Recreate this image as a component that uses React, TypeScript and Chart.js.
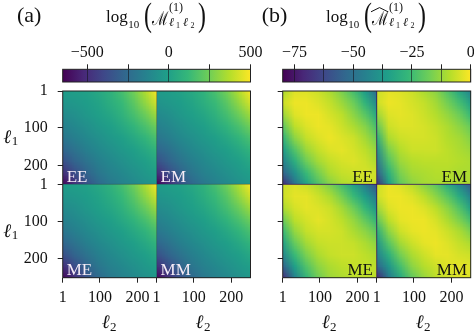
import React, { useEffect, useRef } from "react";
import { Chart, registerables } from "chart.js";
Chart.register(...registerables);

const SERIF = "'Liberation Serif', 'DejaVu Serif', serif";

// multipole nodes (row = l1 index, column = l2 index) at which values were read
const ELL_NODES = [1, 32.25, 63.5, 94.75, 126, 157.25, 188.5, 219.75, 251];
const BLOCK_SHIFT = 250;
const ELL_TICKS = [1, 100, 200];
const BLOCK_NAMES = ["EE", "EM", "ME", "MM"];
const BLOCK_COL = [0, 1, 0, 1];
const BLOCK_ROW = [0, 0, 1, 1];

const RANGE_A = [-650, 500];
const RANGE_B = [-80, 0];
const CB_A_TICKS = [-500, -250, 0, 250, 500];
const CB_A_LABELLED = [-500, 0, 500];
const CB_B_TICKS = [-75, -62.5, -50, -37.5, -25, -12.5, 0];
const CB_B_LABELLED = [-75, -50, -25, 0];

// panel (a): log10 M
const A_EE = [
  [-15, -5, 5, 40, 85, 155, 245, 360, 490],
  [-50, -40, -15, 15, 65, 120, 200, 305, 420],
  [-100, -75, -40, -5, 30, 85, 155, 235, 330],
  [-145, -110, -75, -40, -5, 40, 100, 165, 245],
  [-200, -155, -110, -75, -40, -5, 40, 100, 165],
  [-270, -215, -155, -110, -75, -40, -5, 40, 100],
  [-360, -280, -215, -155, -110, -75, -40, -5, 40],
  [-490, -375, -280, -200, -145, -110, -75, -40, -5],
  [-640, -500, -360, -260, -190, -145, -110, -75, -40],
];
const A_EM = [
  [-25, -10, 10, 45, 95, 165, 255, 370, 495],
  [-60, -40, -15, 20, 70, 125, 205, 310, 425],
  [-105, -80, -40, -5, 30, 85, 155, 240, 335],
  [-150, -115, -75, -40, -5, 40, 100, 165, 250],
  [-205, -160, -110, -75, -40, -5, 40, 100, 165],
  [-275, -220, -160, -110, -75, -40, -5, 40, 100],
  [-365, -285, -215, -155, -110, -75, -40, -5, 40],
  [-495, -380, -285, -205, -145, -110, -75, -40, -5],
  [-645, -505, -365, -265, -195, -145, -110, -75, -40],
];
const A_ME = [
  [-15, -5, 5, 40, 85, 150, 240, 355, 485],
  [-50, -40, -15, 15, 60, 120, 195, 300, 415],
  [-100, -75, -40, -5, 30, 80, 150, 230, 325],
  [-145, -110, -75, -40, -5, 40, 95, 160, 240],
  [-200, -155, -110, -75, -40, -5, 40, 95, 160],
  [-270, -215, -155, -110, -75, -40, -5, 40, 100],
  [-360, -280, -215, -155, -110, -75, -40, -5, 40],
  [-490, -375, -280, -200, -145, -110, -75, -40, -5],
  [-640, -500, -360, -260, -190, -145, -110, -75, -40],
];
const A_MM = [
  [-20, -5, 5, 40, 90, 160, 250, 365, 490],
  [-55, -40, -15, 15, 65, 125, 200, 305, 420],
  [-100, -75, -40, -5, 30, 85, 155, 235, 330],
  [-145, -110, -75, -40, -5, 40, 100, 165, 245],
  [-200, -155, -110, -75, -40, -5, 40, 100, 165],
  [-270, -215, -155, -110, -75, -40, -5, 40, 100],
  [-360, -280, -215, -155, -110, -75, -40, -5, 40],
  [-490, -375, -280, -200, -145, -110, -75, -40, -5],
  [-640, -500, -360, -260, -190, -145, -110, -75, -40],
];

// panel (b): log10 M-hat
const B_EE = [
  [-10, -4, -4, -6, -10, -16, -24, -36, -52],
  [-6, -2, -2, -4, -7, -12, -18, -28, -42],
  [-12, -4, -2, -2, -5, -8, -14, -21, -32],
  [-20, -8, -4, -2, -3, -6, -10, -15, -24],
  [-28, -14, -7, -4, -2, -4, -6, -11, -18],
  [-36, -22, -12, -7, -4, -3, -5, -8, -13],
  [-44, -30, -18, -11, -7, -5, -4, -6, -10],
  [-54, -40, -26, -17, -10, -7, -6, -5, -6],
  [-70, -50, -34, -23, -15, -10, -8, -6, -6],
];
const B_EM = [
  [-6, -3, -4, -6, -10, -14, -22, -32, -44],
  [-6, -2, -3, -5, -7, -11, -17, -24, -34],
  [-12, -4, -3, -4, -6, -9, -13, -18, -26],
  [-20, -6, -4, -4, -5, -7, -10, -14, -19],
  [-30, -10, -6, -5, -5, -6, -9, -11, -15],
  [-40, -16, -9, -6, -6, -6, -8, -10, -12],
  [-48, -22, -12, -9, -8, -8, -8, -9, -10],
  [-56, -29, -16, -11, -10, -9, -9, -10, -10],
  [-70, -36, -20, -14, -11, -10, -10, -10, -10],
];
const B_ME = [
  [-6, -4, -6, -10, -16, -24, -34, -46, -60],
  [-6, -3, -3, -6, -10, -17, -26, -36, -48],
  [-10, -5, -3, -4, -6, -11, -18, -27, -38],
  [-18, -8, -5, -3, -5, -8, -13, -20, -28],
  [-26, -13, -7, -5, -5, -6, -10, -14, -20],
  [-34, -19, -11, -7, -6, -6, -7, -10, -14],
  [-42, -26, -16, -10, -7, -6, -6, -8, -10],
  [-54, -35, -22, -14, -10, -8, -7, -7, -8],
  [-70, -45, -28, -18, -12, -10, -8, -8, -8],
];
const B_MM = [
  [-6, -2, -4, -8, -14, -20, -30, -42, -56],
  [-6, -2, -2, -4, -8, -14, -21, -31, -44],
  [-12, -4, -2, -2, -4, -8, -14, -22, -34],
  [-20, -8, -3, -2, -2, -5, -10, -16, -24],
  [-30, -14, -6, -3, -2, -3, -6, -10, -16],
  [-38, -21, -11, -6, -3, -2, -4, -7, -10],
  [-44, -29, -17, -10, -6, -3, -3, -5, -6],
  [-54, -38, -24, -14, -9, -6, -4, -3, -4],
  [-72, -48, -32, -20, -13, -8, -6, -4, -4],
];

const VIRIDIS = [
  [68, 1, 84], [72, 40, 120], [62, 73, 137], [49, 104, 142], [38, 130, 142],
  [31, 158, 137], [53, 183, 121], [110, 206, 88], [181, 222, 43], [253, 231, 37],
];

function viridis(t: number) {
  const tt = Math.max(0, Math.min(1, t));
  const s = tt * (VIRIDIS.length - 1);
  const i = Math.min(Math.floor(s), VIRIDIS.length - 2);
  const f = s - i;
  return VIRIDIS[i].map((c, k) => Math.round(c + (VIRIDIS[i + 1][k] - c) * f));
}

function toPoints(m: number[][], k: number) {
  const ox = BLOCK_COL[k] * BLOCK_SHIFT;
  const oy = BLOCK_ROW[k] * BLOCK_SHIFT;
  const pts: any[] = [];
  m.forEach((row, i) =>
    row.forEach((v, j) => pts.push({ x: ELL_NODES[j] + ox, y: ELL_NODES[i] + oy, v }))
  );
  return pts;
}

const heatmapPlugin = {
  id: "heat",
  beforeDatasetsDraw(chart: any, _args: any, opts: any) {
    const { ctx, scales } = chart;
    const xs = scales.x, ys = scales.y;
    const [vmin, vmax] = opts.range;
    chart.data.datasets.forEach((ds: any) => {
      const pts = ds.data;
      const xv = Array.from(new Set(pts.map((p: any) => p.x))).sort((a: any, b: any) => a - b) as number[];
      const yv = Array.from(new Set(pts.map((p: any) => p.y))).sort((a: any, b: any) => a - b) as number[];
      const off = document.createElement("canvas");
      off.width = xv.length;
      off.height = yv.length;
      const octx = off.getContext("2d")!;
      const img = octx.createImageData(xv.length, yv.length);
      pts.forEach((p: any) => {
        const i = yv.indexOf(p.y), j = xv.indexOf(p.x);
        const c = viridis((p.v - vmin) / (vmax - vmin));
        const k = (i * xv.length + j) * 4;
        img.data[k] = c[0]; img.data[k + 1] = c[1]; img.data[k + 2] = c[2]; img.data[k + 3] = 255;
      });
      octx.putImageData(img, 0, 0);
      const x0 = xs.getPixelForValue(xv[0]), x1 = xs.getPixelForValue(xv[xv.length - 1]);
      const y0 = ys.getPixelForValue(yv[0]), y1 = ys.getPixelForValue(yv[yv.length - 1]);
      ctx.save();
      ctx.imageSmoothingEnabled = true;
      ctx.drawImage(off, 0.5, 0.5, xv.length - 1, yv.length - 1,
        Math.min(x0, x1), Math.min(y0, y1), Math.abs(x1 - x0), Math.abs(y1 - y0));
      ctx.restore();
    });
  },
};

function drawEll(ctx: any, x: number, base: number, sub: string, size: number, subSize: number, drop: number) {
  ctx.font = `italic ${size}px ${SERIF}`;
  ctx.textAlign = "left";
  ctx.textBaseline = "alphabetic";
  ctx.fillText("\u2113", x, base);
  const w = ctx.measureText("\u2113").width;
  ctx.font = `${subSize}px ${SERIF}`;
  ctx.fillText(sub, x + w + 0.5, base + drop);
}

function panelDecor(kind: string) {
  return {
    id: "decor" + kind,
    afterDatasetsDraw(chart: any) {
      const { ctx, chartArea: ca, scales } = chart;
      const x = scales.x, y = scales.y;
      ctx.save();
      const xd = x.getPixelForValue(1 + BLOCK_SHIFT), yd = y.getPixelForValue(1 + BLOCK_SHIFT);
      ctx.strokeStyle = kind === "a" ? "rgba(45,40,75,0.4)" : "rgba(55,25,95,0.85)";
      ctx.lineWidth = 1;
      ctx.beginPath();
      ctx.moveTo(xd, ca.top); ctx.lineTo(xd, ca.bottom);
      ctx.moveTo(ca.left, yd); ctx.lineTo(ca.right, yd);
      ctx.stroke();
      ctx.strokeStyle = "#222";
      ctx.strokeRect(ca.left, ca.top, ca.right - ca.left, ca.bottom - ca.top);
      ctx.font = `17px ${SERIF}`;
      ctx.textBaseline = "alphabetic";
      BLOCK_NAMES.forEach((name, k) => {
        const ox = BLOCK_COL[k] * BLOCK_SHIFT, oy = BLOCK_ROW[k] * BLOCK_SHIFT;
        const left = x.getPixelForValue(1 + ox), right = x.getPixelForValue(251 + ox);
        const bottom = y.getPixelForValue(251 + oy);
        if (kind === "a") {
          ctx.fillStyle = "#f6ecf6"; ctx.textAlign = "left";
          ctx.fillText(name, left + 4, bottom - 2.5);
        } else {
          ctx.fillStyle = "#111"; ctx.textAlign = "right";
          ctx.fillText(name, right - 3.7, bottom - 2.5);
        }
      });
      ctx.restore();
    },
    afterDraw(chart: any) {
      const { ctx, scales } = chart;
      const x = scales.x, y = scales.y;
      ctx.save();
      ctx.fillStyle = "#111";
      [0, 1].forEach((b) => {
        const o = b * BLOCK_SHIFT;
        const cx = (x.getPixelForValue(1 + o) + x.getPixelForValue(251 + o)) / 2;
        drawEll(ctx, cx - 8, 244.3, "2", 19, 13, 2.4);
        if (kind === "a") {
          const cy = (y.getPixelForValue(1 + o) + y.getPixelForValue(251 + o)) / 2;
          drawEll(ctx, 3.3, cy + 5.8, "1", 19, 13, 1.8);
        }
      });
      ctx.restore();
    },
  };
}

function ellAxis(which: string, size: number, showLabels: boolean) {
  const tickVals = [...ELL_TICKS, ...ELL_TICKS.map((t) => t + BLOCK_SHIFT)];
  return {
    type: "linear",
    min: 1,
    max: 1 + 2 * BLOCK_SHIFT,
    reverse: which === "y",
    afterBuildTicks: (s: any) => { s.ticks = tickVals.map((v) => ({ value: v })); },
    afterFit: (s: any) => {
      if (which === "x") s.height = size; else s.width = size;
      s.paddingLeft = 0; s.paddingRight = 0; s.paddingTop = 0; s.paddingBottom = 0;
    },
    ticks: {
      autoSkip: false, maxRotation: 0, minRotation: 0,
      padding: which === "x" ? 5 : 10,
      color: "#111",
      font: { family: SERIF, size: 16 },
      callback: (v: number) => (showLabels ? String(v > BLOCK_SHIFT + 0.5 ? v - BLOCK_SHIFT : v) : ""),
    },
    grid: { drawOnChartArea: false, drawTicks: true, tickLength: 5, color: "#222", tickColor: "#222", lineWidth: 1 },
    border: { display: false },
  };
}

function panelConfig(blocks: number[][][], range: number[], kind: string, yWidth: number, rightPad: number) {
  return {
    type: "scatter",
    data: {
      datasets: blocks.map((m, k) => ({
        label: BLOCK_NAMES[k], data: toPoints(m, k), pointRadius: 0, pointHoverRadius: 0,
      })),
    },
    options: {
      responsive: false, animation: false, events: [],
      layout: { padding: { left: 0, right: rightPad, top: 7, bottom: 0 } },
      plugins: { legend: { display: false }, tooltip: { enabled: false }, heat: { range } },
      scales: { x: ellAxis("x", 54.3, true), y: ellAxis("y", yWidth, kind === "a") },
    },
    plugins: [heatmapPlugin, panelDecor(kind)],
  };
}

function drawParen(ctx: any, ch: string, x: number) {
  ctx.save();
  ctx.translate(x, 26.2);
  ctx.scale(0.72, 1);
  ctx.font = `33px ${SERIF}`;
  ctx.fillText(ch, 0, 0);
  ctx.restore();
}

function drawFitted(ctx: any, text: string, x: number, base: number, width: number) {
  const w = ctx.measureText(text).width;
  ctx.save();
  ctx.translate(x, base);
  ctx.scale(Math.min(1, width / w), 1);
  ctx.fillText(text, 0, 0);
  ctx.restore();
}

function drawTitle(ctx: any, x0: number, hat: boolean, tag: string, tagX: number) {
  ctx.save();
  ctx.fillStyle = "#111";
  ctx.strokeStyle = "#111";
  ctx.textAlign = "left";
  ctx.textBaseline = "alphabetic";
  ctx.font = `22px ${SERIF}`;
  ctx.fillText(tag, tagX, 22);
  ctx.font = `17px ${SERIF}`;
  ctx.fillText("log", x0, 21.7);
  ctx.font = `11px ${SERIF}`;
  ctx.fillText("10", x0 + 22.3, 27.5);
  drawParen(ctx, "(", x0 + 38);
  ctx.font = `19px ${SERIF}`;
  drawFitted(ctx, "\u2133", x0 + 45.5, 25, 16.5);
  if (hat) {
    ctx.lineWidth = 1;
    ctx.beginPath();
    ctx.moveTo(x0 + 45, 11.8); ctx.lineTo(x0 + 53.5, 7.6); ctx.lineTo(x0 + 62, 11.8);
    ctx.stroke();
  }
  ctx.font = `12px ${SERIF}`;
  ctx.fillText("(1)", x0 + 63, 10.8);
  ctx.font = `italic 12px ${SERIF}`;
  ctx.fillText("\u2113", x0 + 63, 26);
  ctx.fillText("\u2113", x0 + 77, 26);
  ctx.font = `8px ${SERIF}`;
  ctx.fillText("1", x0 + 70, 28.2);
  ctx.fillText("2", x0 + 84.5, 28.2);
  drawParen(ctx, ")", x0 + 92);
  ctx.restore();
}

function colorbarConfig(range: number[], ticks: number[], labelled: number[], padL: number, padR: number,
  titleX: number, hat: boolean, tag: string, tagX: number) {
  const fmt = (v: number) => (v < 0 ? "\u2212" + Math.abs(v) : String(v));
  return {
    type: "scatter",
    data: { datasets: [] },
    options: {
      responsive: false, animation: false, events: [],
      layout: { padding: { left: padL, right: padR, top: 0, bottom: 2 } },
      plugins: { legend: { display: false }, tooltip: { enabled: false } },
      scales: {
        x: {
          type: "linear", position: "top", min: range[0], max: range[1],
          afterBuildTicks: (s: any) => { s.ticks = ticks.map((v) => ({ value: v })); },
          afterFit: (s: any) => { s.height = 69.3; s.paddingLeft = 0; s.paddingRight = 0; },
          ticks: {
            autoSkip: false, maxRotation: 0, minRotation: 0, padding: 2, color: "#111",
            font: { family: SERIF, size: 16 },
            callback: (v: number) => (labelled.includes(v) ? fmt(v) : ""),
          },
          grid: { drawOnChartArea: true, drawTicks: true, tickLength: 5, color: "rgba(20,20,30,0.6)", tickColor: "#222", lineWidth: 1 },
          border: { display: false },
        },
        y: { display: false, min: 0, max: 1 },
      },
    },
    plugins: [{
      id: "cbar",
      beforeDraw(chart: any) {
        const { ctx, chartArea: ca } = chart;
        const g = ctx.createLinearGradient(ca.left, 0, ca.right, 0);
        VIRIDIS.forEach((c, i) => g.addColorStop(i / (VIRIDIS.length - 1), `rgb(${c[0]},${c[1]},${c[2]})`));
        ctx.save();
        ctx.fillStyle = g;
        ctx.fillRect(ca.left, ca.top, ca.right - ca.left, ca.bottom - ca.top);
        ctx.restore();
      },
      afterDraw(chart: any) {
        const { ctx, chartArea: ca } = chart;
        ctx.save();
        ctx.strokeStyle = "#222";
        ctx.lineWidth = 1;
        ctx.strokeRect(ca.left, ca.top, ca.right - ca.left, ca.bottom - ca.top);
        ctx.restore();
        drawTitle(ctx, titleX, hat, tag, tagX);
      },
    }],
  };
}

export default function App() {
  const cbA = useRef<HTMLCanvasElement>(null);
  const cbB = useRef<HTMLCanvasElement>(null);
  const pA = useRef<HTMLCanvasElement>(null);
  const pB = useRef<HTMLCanvasElement>(null);

  useEffect(() => {
    const charts = [
      new Chart(cbA.current as any, colorbarConfig(RANGE_A, CB_A_TICKS, CB_A_LABELLED, 62.7, 23.5, 106, false, "(a)", 17) as any),
      new Chart(cbB.current as any, colorbarConfig(RANGE_B, CB_B_TICKS, CB_B_LABELLED, 26.7, 3.3, 70, true, "(b)", 5.7) as any),
      new Chart(pA.current as any, panelConfig([A_EE, A_EM, A_ME, A_MM], RANGE_A, "a", 62.7, 5.5) as any),
      new Chart(pB.current as any, panelConfig([B_EE, B_EM, B_ME, B_MM], RANGE_B, "b", 26.7, 3.3) as any),
    ];
    return () => charts.forEach((c) => c.destroy());
  }, []);

  const abs = (l: number, t: number, w: number, h: number): any => ({
    position: "absolute", left: l, top: t, width: w, height: h,
  });

  return (
    <div style={{ position: "fixed", left: 0, top: 0, width: 474, height: 332, background: "#fff", overflow: "hidden" }}>
      <canvas ref={cbB} width={218} height={84} style={abs(256, 0, 218, 84)} />
      <canvas ref={cbA} width={274} height={84} style={abs(0, 0, 274, 84)} />
      <canvas ref={pA} width={256} height={248} style={abs(0, 84, 256, 248)} />
      <canvas ref={pB} width={218} height={248} style={abs(256, 84, 218, 248)} />
    </div>
  );
}
